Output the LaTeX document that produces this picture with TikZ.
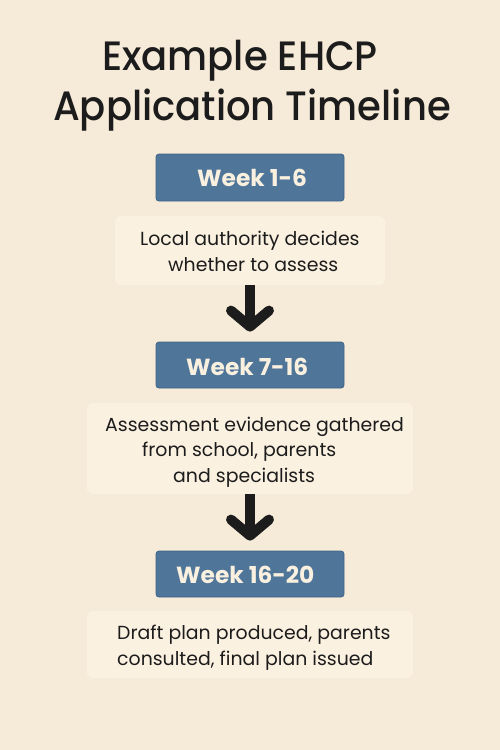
\documentclass[tikz,border=0pt]{standalone}
\usepackage{fontspec}
\setmainfont{Poppins}
\newfontfamily\titlefont{Poppins Medium}
\usetikzlibrary{arrows.meta}
\definecolor{bg}{HTML}{F6EAD8}
\definecolor{card}{HTML}{FBF1E1}
\definecolor{weekblue}{HTML}{4F7599}
\definecolor{weekedge}{HTML}{3E6388}
\definecolor{weektext}{HTML}{FAF0DF}
\definecolor{ink}{HTML}{1C1C1C}
\tikzset{
  x=1pt, y=-1pt,
  weekbox/.style={draw=weekedge, line width=0.8pt, fill=weekblue, rounded corners=3pt,
    minimum width=188pt, minimum height=46pt, inner sep=0pt},
  weeklabel/.style={anchor=base west, inner sep=0pt, text=weektext, font=\fontsize{23.3}{28}\selectfont\bfseries},
  cardbox/.style={fill=card, rounded corners=6pt, inner sep=0pt},
  bodyline/.style={anchor=base west, inner sep=0pt, text=ink, font=\fontsize{18.9}{24}\selectfont},
  titleline/.style={anchor=base, inner sep=0pt, text=ink, xscale=0.94, transform shape,
    font=\titlefont\fontsize{41}{50}\selectfont},
  downarrow/.style={draw=ink, line width=10pt, shorten >=10pt,
    -{Straight Barb[length=16pt, width=38pt, round]}}
}
\begin{document}
\begin{tikzpicture}
\fill[bg] (0,0) rectangle (500,750);
\useasboundingbox (0,0) rectangle (500,750);

% title
\node[titleline] (title1) at (240,70) {Example EHCP};
\node[titleline] (title2) at (252,120) {Application Timeline};

% week boxes
\node[weekbox, minimum height=47pt] (w1) at (250,177.5) {};
\node[weekbox] (w2) at (250,365) {};
\node[weekbox] (w3) at (250,574) {};
\node[weeklabel] (w1t) at (197,186) {Week 1-6};
\node[weeklabel] (w2t) at (186,375) {Week 7-16};
\node[weeklabel] (w3t) at (176,583) {Week 16-20};

% cards
\node[cardbox, minimum width=270pt, minimum height=69pt] (c1) at (250,250.5) {};
\node[cardbox, minimum width=326pt, minimum height=91pt] (c2) at (250,448.5) {};
\node[cardbox, minimum width=326pt, minimum height=67pt] (c3) at (250,644.5) {};

\node[bodyline] (c1a) at (140,245) {Local authority decides};
\node[bodyline] (c1b) at (168,271) {whether to assess};
\node[bodyline] (c2a) at (105,431) {Assessment evidence gathered};
\node[bodyline] (c2b) at (142,456) {from school, parents};
\node[bodyline] (c2c) at (173,482) {and specialists};
\node[bodyline] (c3a) at (117,639) {Draft plan produced, parents};
\node[bodyline] (c3b) at (117,665) {consulted, final plan issued};

% arrows
\draw[downarrow] (c1.south) -- (w2.north);
\draw[downarrow] (c2.south) -- (w3.north);
\end{tikzpicture}
\end{document}
